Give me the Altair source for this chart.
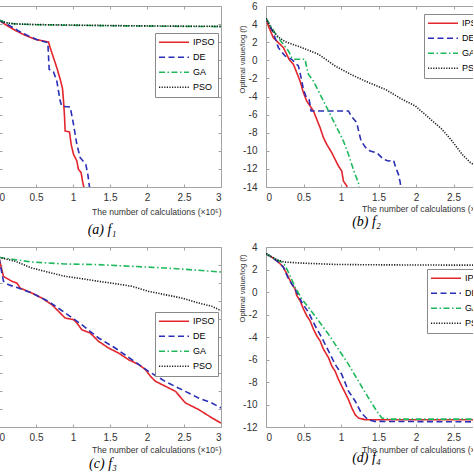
import altair as alt
import pandas as pd

METHODS = ["IPSO", "DE", "GA", "PSO"]
LINE_COLORS = ["#e3262d", "#2b2fb5", "#20b85c", "#1a1a1a"]
LINE_DASHES = [[1, 0], [6, 3.5], [6, 2.5, 1.5, 2.5], [1.2, 1.4]]

X_TICKS = [0, 0.5, 1, 1.5, 2, 2.5, 3]
X_TITLE = "The number of calculations (×10⁵)"
Y_TITLE = "Optimal value/log (f)"

# ---- f1 ----
f1_ipso_x = [0, 0.083, 0.219, 0.354, 0.489, 0.669, 0.691, 0.736, 0.781, 0.827, 0.858, 0.872,
             0.885, 0.894, 0.953, 0.975, 1.007, 1.052, 1.074, 1.110, 1.128, 1.146, 1.164]
f1_ipso_y = [4.42, 3.97, 3.31, 2.76, 2.32, 2.02, 1.40, 0.29, -0.81, -2.10, -3.10, -4.50,
             -6.15, -7.81, -7.92, -9.29, -10.39, -11.13, -12.05, -12.42, -13.34, -14.0, -15.5]
f1_de_x = [0, 0.128, 0.264, 0.399, 0.534, 0.660, 0.678, 0.736, 0.781, 0.827, 0.849, 0.962,
           1.007, 1.052, 1.097, 1.173, 1.200, 1.223, 1.236]
f1_de_y = [4.42, 3.90, 3.24, 2.69, 2.21, 1.95, -1.00, -1.26, -2.29, -4.50, -5.09, -5.16,
           -7.08, -9.29, -10.76, -11.50, -12.60, -14.0, -15.5]
f1_ga_x = [0, 0.1, 0.25, 0.5, 1.0, 1.5, 2.0, 2.5, 3.0]
f1_ga_y = [4.45, 4.12, 4.0, 3.93, 3.87, 3.82, 3.78, 3.75, 3.72]
f1_pso_x = [0, 0.08, 0.2, 0.5, 1.0, 1.5, 2.0, 2.5, 3.0]
f1_pso_y = [4.45, 4.18, 4.03, 3.95, 3.89, 3.84, 3.80, 3.77, 3.75]

# ---- f2 ----
f2_ipso_x = [0, 0.031, 0.098, 0.165, 0.232, 0.276, 0.308, 0.366, 0.41, 0.454, 0.499, 0.543,
             0.588, 0.632, 0.677, 0.721, 0.766, 0.810, 0.877, 0.921, 0.966, 1.010, 1.032,
             1.077, 1.09]
f2_ipso_y = [4.64, 3.79, 2.50, 1.95, 1.40, 0.66, 0.11, -0.45, -1.37, -2.29, -3.58, -4.50,
             -5.05, -5.60, -6.52, -7.44, -8.55, -9.29, -10.21, -10.94, -11.68, -12.23, -13.34,
             -13.89, -14.6]
f2_de_x = [0, 0.098, 0.165, 0.254, 0.343, 0.432, 0.468, 0.499, 0.530, 0.575, 0.601, 1.10,
           1.135, 1.21, 1.24, 1.268, 1.33, 1.388, 1.477, 1.566, 1.63, 1.70, 1.73, 1.766,
           1.79, 1.80]
f2_de_y = [4.64, 3.05, 1.40, 0.48, 0.11, -0.63, -1.92, -3.21, -3.94, -4.31, -5.60, -5.60,
           -6.15, -6.89, -8.0, -8.92, -9.65, -10.02, -10.21, -10.94, -11.13, -11.05, -11.86,
           -12.60, -13.52, -14.26]
f2_ga_x = [0, 0.076, 0.143, 0.232, 0.299, 0.343, 0.388, 0.521, 0.543, 0.566, 0.632, 0.699,
           0.766, 0.833, 0.9, 0.966, 1.032, 1.099, 1.143, 1.188, 1.232, 1.246]
f2_ga_y = [4.64, 3.61, 2.69, 1.76, 1.03, 0.29, 0.11, 0.11, -0.81, -1.55, -2.29, -3.39,
           -4.50, -5.60, -6.71, -7.81, -8.92, -10.39, -11.50, -12.60, -13.52, -14.26]
f2_pso_x = [0, 0.076, 0.165, 0.255, 0.478, 0.700, 0.923, 1.146, 1.368, 1.591, 1.814, 1.992,
            2.170, 2.348, 2.481, 2.615, 2.726, 3.0]
f2_pso_y = [4.64, 3.42, 2.57, 2.06, 1.40, 0.66, -0.63, -1.62, -2.47, -3.21, -4.31, -5.05,
            -6.34, -7.63, -8.92, -10.39, -11.31, -12.6]

# ---- f3 ----
f3_ipso_x = [0, 0.06, 0.173, 0.241, 0.286, 0.443, 0.579, 0.714, 0.894, 1.007, 1.052, 1.119,
             1.232, 1.345, 1.48, 1.615, 1.75, 1.89, 1.98, 2.047, 2.115, 2.25, 2.385, 2.52,
             2.70, 2.88, 3.0]
f3_ipso_y = [2.8, 0.74, 0.19, 0.0, -0.56, -1.11, -1.67, -2.41, -3.89, -4.07, -4.44, -5.19,
             -5.56, -6.48, -7.22, -7.78, -8.52, -9.07, -9.63, -10.37, -10.93, -11.48, -12.04,
             -13.33, -14.07, -15.0, -15.56]
f3_de_x = [0, 0.06, 0.128, 0.264, 0.443, 0.669, 0.894, 1.119, 1.345, 1.57, 1.795, 2.02,
           2.245, 2.47, 2.696, 2.876, 3.0]
f3_de_y = [2.8, 0.19, -0.19, -0.56, -1.11, -2.04, -3.33, -4.63, -6.11, -7.22, -8.52, -9.81,
           -10.93, -11.85, -12.78, -13.33, -13.89]
f3_ga_x = [0, 0.443, 0.894, 1.345, 1.80, 2.245, 2.70, 3.0]
f3_ga_y = [2.85, 2.33, 2.11, 2.04, 1.85, 1.67, 1.41, 1.22]
f3_pso_x = [0, 0.219, 0.443, 0.669, 0.894, 1.119, 1.345, 1.570, 1.795, 2.02, 2.245, 2.47,
            2.696, 2.876, 3.0]
f3_pso_y = [2.85, 2.41, 1.67, 1.19, 0.74, 0.48, 0.19, -0.07, -0.37, -0.93, -1.30, -1.67,
            -2.22, -2.59, -3.07]

# ---- f4 ----
f4_ipso_x = [0, 0.076, 0.165, 0.232, 0.254, 0.299, 0.343, 0.387, 0.41, 0.454, 0.499, 0.543,
             0.588, 0.632, 0.677, 0.721, 0.766, 0.833, 0.877, 0.921, 0.966, 1.010, 1.055,
             1.099, 1.144, 1.188, 1.232, 1.32, 3.0]
f4_ipso_y = [3.40, 3.11, 2.66, 2.21, 1.91, 1.32, 0.72, 0.28, -0.32, -0.77, -1.51, -2.11,
             -2.56, -3.30, -3.90, -4.34, -5.09, -5.83, -6.58, -7.03, -7.77, -8.37, -8.96,
             -9.56, -10.30, -10.90, -11.20, -11.35, -11.35]
f4_de_x = [0, 0.076, 0.165, 0.232, 0.299, 0.388, 0.477, 0.566, 0.655, 0.744, 0.833, 0.922,
           1.01, 1.10, 1.19, 1.27, 1.36, 1.45, 3.0]
f4_de_y = [3.40, 3.11, 2.66, 2.21, 1.17, 0.28, -0.92, -1.81, -3.0, -4.05, -5.24, -6.43,
           -7.32, -8.81, -9.71, -10.75, -11.35, -11.5, -11.55]
f4_ga_x = [0, 0.12, 0.21, 0.254, 0.32, 0.388, 0.477, 0.566, 0.70, 0.833, 0.966, 1.10,
           1.232, 1.366, 1.477, 1.544, 1.68, 3.0]
f4_ga_y = [3.40, 2.96, 2.66, 2.36, 1.47, 0.42, -0.62, -1.36, -2.56, -3.75, -5.09, -6.43,
           -7.92, -9.41, -10.60, -11.20, -11.30, -11.30]
f4_pso_x = [0, 0.076, 0.165, 0.254, 0.476, 0.92, 1.37, 2.0, 3.0]
f4_pso_y = [3.40, 3.11, 2.81, 2.66, 2.57, 2.45, 2.42, 2.40, 2.38]

FONT = "Liberation Sans"
SERIF = "Liberation Serif"
FRAME = "#a2a2a2"
TEXT = "#333333"


def series_table(parts):
    rows = []
    for method, xs, ys in parts:
        for i, (x, y) in enumerate(zip(xs, ys)):
            rows.append({"method": method, "x": x, "y": y, "i": i})
    return pd.DataFrame(rows)


def panel(data, y_domain, width, height, show_y, legend_xy, caption, cap_dx,
          cap_offset, xtitle_pad, ytitle_y=0):
    y_ticks = list(range(y_domain[0], y_domain[1] + 1, 2))
    tick_style = dict(grid=False, domain=False, offset=-3, tickSize=3,
                      tickColor=FRAME, tickWidth=1)
    if show_y:
        left_axis = alt.Axis(
            values=y_ticks, labelExpr="'' + datum.value", labelPadding=9,
            labelFont=FONT, labelFontSize=10, labelColor=TEXT,
            title=Y_TITLE, titleFont=FONT, titleFontSize=7.6, titleFontWeight="normal",
            titleColor=TEXT, titleX=-27, titleY=ytitle_y, titleAngle=270,
            titleBaseline="middle", titleAlign="center", **tick_style)
    else:
        left_axis = alt.Axis(values=y_ticks, labels=False, title=None, **tick_style)
    bottom_axis = alt.Axis(
        values=X_TICKS, labelExpr="'' + datum.value", labelPadding=5,
        labelFont=FONT, labelFontSize=10, labelColor=TEXT,
        title=X_TITLE, titleAnchor="end", titleFont=FONT, titleFontSize=8.6,
        titleFontWeight="normal", titleColor=TEXT, titlePadding=xtitle_pad, **tick_style)
    legend = alt.Legend(
        orient="none", legendX=legend_xy[0], legendY=legend_xy[1], title=None,
        symbolType="stroke", symbolSize=900, symbolStrokeWidth=1.6, clipHeight=12.5,
        labelFont=FONT, labelFontSize=9, labelColor="black", labelOffset=3,
        padding=3, strokeColor="#8a8a8a", fillColor="white")
    x_scale = alt.Scale(domain=[0, 3], nice=False, zero=False)
    y_scale = alt.Scale(domain=list(y_domain), nice=False, zero=False)

    base = alt.Chart(data)
    lines = base.mark_line(clip=True, strokeWidth=1.6).encode(
        x=alt.X("x:Q", scale=x_scale, axis=bottom_axis),
        y=alt.Y("y:Q", scale=y_scale, axis=left_axis),
        color=alt.Color("method:N", scale=alt.Scale(domain=METHODS, range=LINE_COLORS),
                        legend=legend),
        strokeDash=alt.StrokeDash("method:N",
                                  scale=alt.Scale(domain=METHODS, range=LINE_DASHES),
                                  legend=legend),
        order=alt.Order("i:Q"),
    )
    # top and right tick marks of the box
    box_ticks = base.mark_point(opacity=0, clip=True).encode(
        x=alt.X("x:Q", scale=x_scale,
                axis=alt.Axis(orient="top", values=X_TICKS, labels=False, title=None,
                              **tick_style)),
        y=alt.Y("y:Q", scale=y_scale,
                axis=alt.Axis(orient="right", values=y_ticks, labels=False, title=None,
                              **tick_style)),
    )
    return alt.layer(lines, box_ticks).resolve_axis(
        x="independent", y="independent"
    ).properties(
        width=width, height=height,
        title=alt.TitleParams(caption, orient="bottom", anchor="middle", frame="group",
                              font=SERIF, fontSize=14, fontStyle="italic",
                              fontWeight="normal", color="black", dx=cap_dx,
                              offset=cap_offset),
    )


t1 = series_table([("IPSO", f1_ipso_x, f1_ipso_y), ("DE", f1_de_x, f1_de_y),
                   ("GA", f1_ga_x, f1_ga_y), ("PSO", f1_pso_x, f1_pso_y)])
t2 = series_table([("IPSO", f2_ipso_x, f2_ipso_y), ("DE", f2_de_x, f2_de_y),
                   ("GA", f2_ga_x, f2_ga_y), ("PSO", f2_pso_x, f2_pso_y)])
t3 = series_table([("IPSO", f3_ipso_x, f3_ipso_y), ("DE", f3_de_x, f3_de_y),
                   ("GA", f3_ga_x, f3_ga_y), ("PSO", f3_pso_x, f3_pso_y)])
t4 = series_table([("IPSO", f4_ipso_x, f4_ipso_y), ("DE", f4_de_x, f4_de_y),
                   ("GA", f4_ga_x, f4_ga_y), ("PSO", f4_pso_x, f4_pso_y)])

pa = panel(t1, (-14, 6), 222, 181, False, (156, 27), "(a) f₁", -8, 7, 5)
pb = panel(t2, (-14, 6), 225, 181, True, (158, 8), "(b) f₂", -12, 2, 2, ytitle_y=53)
pc = panel(t3, (-16, 4), 222, 180, False, (156, 65), "(c) f₃", -7, 3, 3)
pd_ = panel(t4, (-12, 4), 225, 180, True, (161, 22), "(d) f₄", -12, -3, 3, ytitle_y=41)

RESOLVE = dict(color="independent", strokeDash="independent")


def row(left, right):
    return alt.hconcat(left, right, spacing=15).resolve_scale(**RESOLVE).resolve_legend(**RESOLVE)


chart = alt.vconcat(
    row(pa, pb),
    row(pc, pd_),
    spacing=3,
).resolve_scale(**RESOLVE).resolve_legend(**RESOLVE).properties(
    padding={"left": -2, "top": 0, "right": -19, "bottom": 0},
    background="white",
).configure_view(stroke=FRAME, strokeWidth=1)

chart.save("out.html", embed_options={"renderer": "svg", "actions": False})
